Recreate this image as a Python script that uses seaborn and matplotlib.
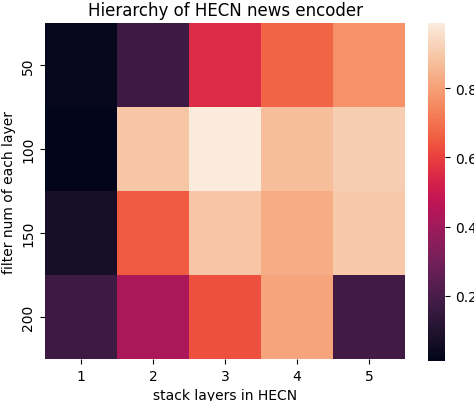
import numpy as np
import pandas as pd
import seaborn as sns
import matplotlib
matplotlib.use('Agg')
import matplotlib.pyplot as plt

# filter num (rows) x stack layers (columns)
filter_nums = [50, 100, 150, 200]
stack_layers = [1, 2, 3, 4, 5]
row_50 = [0.03, 0.17, 0.55, 0.67, 0.77]
row_100 = [0.012, 0.89, 0.988, 0.87, 0.91]
row_150 = [0.07, 0.65, 0.89, 0.83, 0.90]
row_200 = [0.17, 0.42, 0.63, 0.81, 0.18]

df = pd.DataFrame([row_50, row_100, row_150, row_200],
                  index=filter_nums, columns=stack_layers)

fig = plt.figure(figsize=(4.74, 4.02), dpi=100)
ax = fig.add_axes([45/474, 1 - 360/402, 360/474, 336/402])
cax = fig.add_axes([428/474, 1 - 362/402, 17/474, 338/402])

sns.heatmap(df, ax=ax, cbar_ax=cax)

ax.set_title('Hierarchy of HECN news encoder', fontsize=12)
ax.set_xlabel('stack layers in HECN')
ax.set_ylabel('filter num of each layer')

fig.savefig('out.png', dpi=100)
